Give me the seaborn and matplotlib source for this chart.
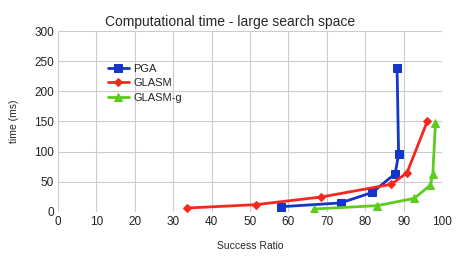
import pandas as pd
import matplotlib
matplotlib.use("Agg")
import matplotlib.pyplot as plt
import seaborn as sns

# values
pga_x = [58.2, 73.6, 81.9, 87.8, 88.7, 88.3]
pga_y = [8.8, 15, 32.6, 63.5, 95.6, 238.7]
glasm_x = [33.7, 51.6, 68.6, 86.8, 90.9, 96.2]
glasm_y = [6.6, 12.2, 24.9, 45.9, 65.2, 150.8]
glasmg_x = [66.7, 83.1, 92.8, 97.0, 97.6, 98.3]
glasmg_y = [5, 10.5, 22.7, 44.8, 62.4, 148]

series = [
    ("PGA", pga_x, pga_y, "#1436c8", "s", 6),
    ("GLASM", glasm_x, glasm_y, "#f5281e", "D", 4),
    ("GLASM-g", glasmg_x, glasmg_y, "#5ccc1e", "^", 6),
]

sns.set_style("white")
plt.rcParams['font.family'] = ['Liberation Sans', 'DejaVu Sans']

fig = plt.figure(figsize=(4.74, 2.67), dpi=100)
ax = fig.add_axes([58 / 474, 1 - 212 / 267, (442 - 58) / 474, (212 - 31) / 267])

for name, xs, ys, col, mk, ms in series:
    df = pd.DataFrame({"x": xs, "y": ys})
    sns.lineplot(data=df, x="x", y="y", sort=False, ax=ax, color=col, marker=mk,
                 markersize=ms, markeredgecolor=col, linewidth=2, label=name)

ax.set_xlim(0, 100)
ax.set_ylim(0, 300)
ax.set_xticks(range(0, 101, 10))
ax.set_yticks(range(0, 301, 50))
ax.grid(True, color="#cccccc", linewidth=0.8)
for s in ax.spines.values():
    s.set_visible(False)
ax.tick_params(labelsize=8.5, length=0, pad=3, colors="#222222")
ax.set_xlabel("Success Ratio", fontsize=7.5, labelpad=9)
ax.set_ylabel("time (ms)", fontsize=7.5, labelpad=11)
fig.text(230 / 474, 1 - 22 / 267, "Computational time - large search space",
         fontsize=10, ha="center", va="center")
ax.legend(loc="upper left", bbox_to_anchor=(0.115, 0.85), frameon=False, fontsize=8,
          handlelength=1.9, handletextpad=0.4, labelspacing=0.4, borderpad=0)

fig.savefig("out.png", dpi=100)
